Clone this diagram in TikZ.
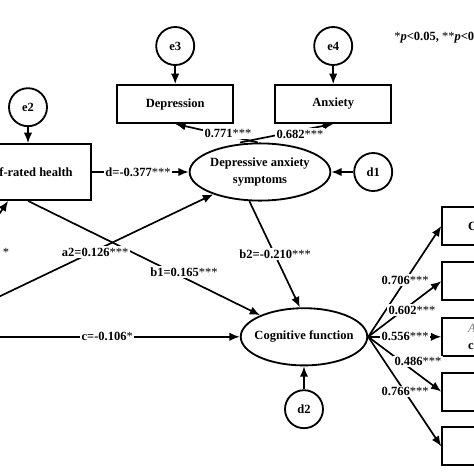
\documentclass[tikz,border=0pt]{standalone}
\usepackage{fontspec}
\setmainfont{Liberation Serif}
\usepackage{tikz}
\usetikzlibrary{arrows.meta}
\usetikzlibrary{shapes,positioning}

\begin{document}
\begin{tikzpicture}[
        every node/.style={font=\fontsize{8.9}{12}\selectfont\bfseries},
        box/.style={draw, line width=1.3pt, minimum width=2.9cm, minimum height=0.95cm, align=center, fill=white},
        item/.style={draw, line width=1.3pt, minimum height=0.95cm, text width=1.65cm, inner xsep=0.65cm, align=left, fill=white},
        latent/.style={draw, ellipse, line width=1.3pt, inner sep=0pt, minimum height=1.43cm, align=center, fill=white},
        err/.style={draw, circle, line width=1.3pt, minimum size=0.95cm, inner sep=0pt},
        arrow/.style={-{Latex[length=2.6mm,width=2.1mm]}, line width=1.2pt},
        coef/.style={fill=white, inner sep=1pt}
    ]
        \useasboundingbox (0,0) rectangle (11.85,-11.85);
        \clip (0,0) rectangle (11.85,-11.85);

        % Observed and latent variables
        \coordinate (src) at (-2.125,-8.42);
        \node[box, minimum width=3.15cm, minimum height=1.4cm] (sr) at (0.70,-4.30) {Self-rated health};
        \node[box] (dsn) at (4.38,-2.60) {Depression};
        \node[box] (anx) at (8.33,-2.60) {Anxiety};
        \node[latent] (dep) at (6.50,-4.30) {Depressive anxiety\\symptoms};
        \node[latent, inner xsep=-0.12cm] (cog) at (7.60,-8.42) {Cognitive function};

        % Error terms
        \node[err] (e2) at (0.70,-2.68) {e2};
        \node[err] (e3) at (4.38,-1.15) {e3};
        \node[err] (e4) at (8.33,-1.15) {e4};
        \node[err] (d1) at (9.33,-4.30) {d1};
        \node[err] (d2) at (7.60,-10.23) {d2};

        % Indicators of cognitive function
        \node[item] (f1) at (12.53,-5.65) {C};
        \node[item] (f2) at (12.53,-7.03) {};
        \node[item] (f3) at (12.53,-8.42) {{\mdseries\itshape\color{gray}\small A}\\c};
        \node[item] (f4) at (12.53,-9.79) {};
        \node[item] (f5) at (12.53,-11.16) {};

        % Paths
        \draw[arrow] (e2) -- (sr);
        \draw[arrow] (e3) -- (dsn);
        \draw[arrow] (e4) -- (anx);
        \draw[arrow] (d1) -- (dep);
        \draw[arrow] (d2) -- (cog);
        \draw[arrow] (sr) -- (dep);
        \draw[arrow] ([xshift=-0.05cm]dep.north) -- (dsn.south);
        \draw[arrow] ([xshift=-0.5cm]dep.north) -- (anx.south);
        \draw[arrow] (src) -- (sr);
        \draw[arrow] (src) -- (dep);
        \draw[arrow] (src) -- (cog);
        \draw[arrow] (sr.south) -- (cog);
        \draw[arrow] (dep.250) -- (cog.98);
        \draw[arrow] (cog.east) -- (f1.west);
        \draw[arrow] (cog.east) -- (f2.west);
        \draw[arrow] (cog.east) -- (f3.west);
        \draw[arrow] (cog.east) -- (f4.west);
        \draw[arrow] (cog.east) -- (f5.west);

        % Coefficients
        \node[coef] (lbld) at (3.45,-4.30) {d=-0.377{\mdseries***}};
        \node[coef] (lbldsn) at (5.70,-3.33) {0.771{\mdseries***}};
        \node[coef] (lblanx) at (7.50,-3.35) {0.682{\mdseries***}};
        \node[coef] (lbla1) at (0.15,-6.30) {\mdseries*};
        \node[coef] (lbla2) at (2.38,-6.30) {a2=0.126{\mdseries***}};
        \node[coef] (lblb1) at (4.60,-6.80) {b1=0.165{\mdseries***}};
        \node[coef] (lblb2) at (6.88,-6.35) {b2=-0.210{\mdseries***}};
        \node[coef] (lblc) at (2.68,-8.42) {c=-0.106{\mdseries*}};
        \node[coef] (lblf1) at (10.13,-7.00) {0.706{\mdseries***}};
        \node[coef] (lblf2) at (10.30,-7.75) {0.602{\mdseries***}};
        \node[coef] (lblf3) at (10.13,-8.42) {0.556{\mdseries***}};
        \node[coef] (lblf4) at (10.45,-9.03) {0.486{\mdseries***}};
        \node[coef] (lblf5) at (10.13,-9.78) {0.766{\mdseries***}};

        % Significance note
        \node[anchor=west, inner sep=0pt] (note) at (9.85,-0.93) {{\mdseries*}\textit{p}<0.05, {\mdseries**}\textit{p}<0};
    \end{tikzpicture}
\end{document}
